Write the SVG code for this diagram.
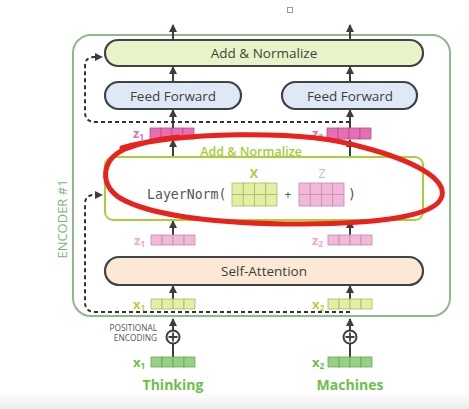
<svg xmlns="http://www.w3.org/2000/svg" width="469" height="409" viewBox="0 0 469 409">
<defs>
<marker id="ah" markerUnits="userSpaceOnUse" markerWidth="8" markerHeight="8" refX="7" refY="4" orient="auto">
<path d="M0,0 L8,4 L0,8 z" fill="#3d3d3d"/>
</marker>
<linearGradient id="shade" x1="0" y1="0" x2="0" y2="1">
<stop offset="0" stop-color="#ffffff"/>
<stop offset="1" stop-color="#ececec"/>
</linearGradient>
</defs>
<style>
.t{font-family:"Open Sans","Liberation Sans",sans-serif;fill:#3f3f3f;text-anchor:middle}
.box{stroke:#3f4347;stroke-width:2.2}
.ar{stroke:#3d3d3d;stroke-width:2;fill:none;marker-end:url(#ah)}
.dash{stroke:#333;stroke-width:2;fill:none;stroke-dasharray:4 3}
.zd{fill:#e46fb4;stroke:#b8508e;stroke-width:0.8}
.zl{fill:#f2b8d9;stroke:#c98bb0;stroke-width:0.8}
.xl{fill:#e3f0a3;stroke:#a8b86c;stroke-width:0.8}
.xd{fill:#98d184;stroke:#6aa65c;stroke-width:0.8}
.lab{font-family:"Open Sans","Liberation Sans",sans-serif;font-weight:bold;font-size:13px}
</style>
<rect width="469" height="409" fill="#ffffff"/>
<rect x="0" y="392" width="469" height="17" fill="url(#shade)"/>
<rect x="287.5" y="7.5" width="5" height="5" fill="none" stroke="#9a9a9a" stroke-width="1"/>

<g id="encoder">
<rect x="73" y="35" width="377" height="281" rx="18" fill="none" stroke="#8db98d" stroke-width="2"/>
<text transform="translate(67,219) rotate(-90)" font-family="'Open Sans','Liberation Sans',sans-serif" font-size="13" fill="#7fb27f" text-anchor="middle">ENCODER #1</text>
</g>

<g id="connectors">
<line class="ar" x1="173" y1="40" x2="173" y2="25"/>
<line class="ar" x1="350" y1="40" x2="350" y2="25"/>
<line class="ar" x1="173" y1="82" x2="173" y2="67"/>
<line class="ar" x1="350" y1="82" x2="350" y2="67"/>
<line class="ar" x1="173" y1="128" x2="173" y2="110"/>
<line class="ar" x1="350" y1="128" x2="350" y2="110"/>
<line class="ar" x1="173" y1="157" x2="173" y2="140"/>
<line class="ar" x1="350" y1="157" x2="350" y2="140"/>
<line class="ar" x1="173" y1="235" x2="173" y2="221"/>
<line class="ar" x1="350" y1="235" x2="350" y2="221"/>
<line class="ar" x1="173" y1="299" x2="173" y2="286"/>
<line class="ar" x1="350" y1="299" x2="350" y2="286"/>
<line class="ar" x1="173" y1="331" x2="173" y2="319"/>
<line class="ar" x1="350" y1="331" x2="350" y2="319"/>
<line x1="173" y1="343" x2="173" y2="357" stroke="#3d3d3d" stroke-width="2"/>
<line x1="350" y1="343" x2="350" y2="357" stroke="#3d3d3d" stroke-width="2"/>
<path class="dash" d="M350,122 L95,122 Q85,122 85,112 L85,66 Q85,57 94,57 L100,57"/>
<path d="M95,53 L103,57 L95,61 z" fill="#3d3d3d"/>
<path class="dash" d="M350,312 L95,312 Q85,312 85,302 L85,204 Q85,195 94,195 L100,195"/>
<path d="M95,191 L103,195 L95,199 z" fill="#3d3d3d"/>
</g>

<g id="add-normalize-top">
<rect class="box" x="105" y="40" width="318" height="26" rx="13" fill="#e8f4c8"/>
<text class="t" x="264" y="58" font-size="13.5">Add &amp; Normalize</text>
</g>

<g id="feed-forward-1">
<rect class="box" x="105" y="82" width="136" height="27" rx="13.5" fill="#dfe9f6"/>
<text class="t" x="173" y="100.5" font-size="13.5">Feed Forward</text>
</g>
<g id="feed-forward-2">
<rect class="box" x="282" y="82" width="135" height="27" rx="13.5" fill="#dfe9f6"/>
<text class="t" x="350" y="100.5" font-size="13.5">Feed Forward</text>
</g>

<g id="z1-out">
<text class="lab" x="133" y="138" fill="#e46fb4">z<tspan font-size="8.5" dy="2">1</tspan></text>
<rect class="zd" x="150" y="128" width="11" height="11"/><rect class="zd" x="161" y="128" width="11" height="11"/><rect class="zd" x="172" y="128" width="11" height="11"/><rect class="zd" x="183" y="128" width="11" height="11"/>
</g>
<g id="z2-out">
<text class="lab" x="312" y="138" fill="#e46fb4">z<tspan font-size="8.5" dy="2">2</tspan></text>
<rect class="zd" x="327" y="128" width="11" height="11"/><rect class="zd" x="338" y="128" width="11" height="11"/><rect class="zd" x="349" y="128" width="11" height="11"/><rect class="zd" x="360" y="128" width="11" height="11"/>
</g>

<g id="layernorm">
<text x="251" y="156" font-family="'Open Sans','Liberation Sans',sans-serif" font-size="12.5" font-weight="600" fill="#a6cc3e" text-anchor="middle">Add &amp; Normalize</text>
<rect x="105" y="157" width="318" height="63" rx="8" fill="#ffffff" stroke="#a6cf38" stroke-width="2"/>
<text x="147" y="199" font-family="'DejaVu Sans Mono','Liberation Mono',monospace" font-size="13.2" fill="#555">LayerNorm(</text>
<text x="254" y="178" font-family="'Open Sans','Liberation Sans',sans-serif" font-size="12.5" font-weight="bold" fill="#b3c83a" text-anchor="middle">X</text>
<text x="322" y="178" font-family="'Open Sans','Liberation Sans',sans-serif" font-size="12.5" fill="#eea8cc" text-anchor="middle">Z</text>
<g class="xl">
<rect x="232" y="183" width="11.25" height="11.5"/><rect x="243.25" y="183" width="11.25" height="11.5"/><rect x="254.5" y="183" width="11.25" height="11.5"/><rect x="265.75" y="183" width="11.25" height="11.5"/>
<rect x="232" y="194.5" width="11.25" height="11.5"/><rect x="243.25" y="194.5" width="11.25" height="11.5"/><rect x="254.5" y="194.5" width="11.25" height="11.5"/><rect x="265.75" y="194.5" width="11.25" height="11.5"/>
</g>
<text x="288" y="199" font-family="'Open Sans','Liberation Sans',sans-serif" font-size="12" fill="#555" text-anchor="middle">+</text>
<g class="zl">
<rect x="299" y="183" width="11.25" height="11.5"/><rect x="310.25" y="183" width="11.25" height="11.5"/><rect x="321.5" y="183" width="11.25" height="11.5"/><rect x="332.75" y="183" width="11.25" height="11.5"/>
<rect x="299" y="194.5" width="11.25" height="11.5"/><rect x="310.25" y="194.5" width="11.25" height="11.5"/><rect x="321.5" y="194.5" width="11.25" height="11.5"/><rect x="332.75" y="194.5" width="11.25" height="11.5"/>
</g>
<text x="348" y="199" font-family="'DejaVu Sans Mono','Liberation Mono',monospace" font-size="13.2" fill="#555">)</text>
</g>

<g id="z1-in">
<text class="lab" x="134" y="245" fill="#f0a8cf">z<tspan font-size="8.5" dy="2">1</tspan></text>
<rect class="zl" x="151" y="235" width="11" height="10"/><rect class="zl" x="162" y="235" width="11" height="10"/><rect class="zl" x="173" y="235" width="11" height="10"/><rect class="zl" x="184" y="235" width="11" height="10"/>
</g>
<g id="z2-in">
<text class="lab" x="312" y="245" fill="#f0a8cf">z<tspan font-size="8.5" dy="2">2</tspan></text>
<rect class="zl" x="328" y="235" width="11" height="10"/><rect class="zl" x="339" y="235" width="11" height="10"/><rect class="zl" x="350" y="235" width="11" height="10"/><rect class="zl" x="361" y="235" width="11" height="10"/>
</g>

<g id="self-attention">
<rect class="box" x="105" y="257" width="318" height="28" rx="14" fill="#fbe8d5"/>
<text class="t" x="264" y="276" font-size="13.5">Self-Attention</text>
</g>

<g id="x1-enc">
<text class="lab" x="133" y="309" fill="#c2cc3a">x<tspan font-size="8.5" dy="2">1</tspan></text>
<rect class="xl" x="151" y="299" width="11" height="10"/><rect class="xl" x="162" y="299" width="11" height="10"/><rect class="xl" x="173" y="299" width="11" height="10"/><rect class="xl" x="184" y="299" width="11" height="10"/>
</g>
<g id="x2-enc">
<text class="lab" x="312" y="309" fill="#c2cc3a">x<tspan font-size="8.5" dy="2">2</tspan></text>
<rect class="xl" x="328" y="299" width="11" height="10"/><rect class="xl" x="339" y="299" width="11" height="10"/><rect class="xl" x="350" y="299" width="11" height="10"/><rect class="xl" x="361" y="299" width="11" height="10"/>
</g>

<g id="positional-encoding">
<text x="157" y="331" font-family="'Open Sans','Liberation Sans',sans-serif" font-size="8.3" fill="#555" text-anchor="end">POSITIONAL</text>
<text x="157" y="341" font-family="'Open Sans','Liberation Sans',sans-serif" font-size="8.3" fill="#555" text-anchor="end">ENCODING</text>
<circle cx="173" cy="337" r="6.5" fill="#fff" stroke="#3d3d3d" stroke-width="2"/>
<path d="M168.5,337 H177.5 M173,332.5 V341.5" stroke="#3d3d3d" stroke-width="1.8"/>
<circle cx="350" cy="337" r="6.5" fill="#fff" stroke="#3d3d3d" stroke-width="2"/>
<path d="M345.5,337 H354.5 M350,332.5 V341.5" stroke="#3d3d3d" stroke-width="1.8"/>
</g>

<g id="x1-input">
<text class="lab" x="133" y="367" fill="#6cbf4a">x<tspan font-size="8.5" dy="2">1</tspan></text>
<rect class="xd" x="151" y="357" width="11" height="10"/><rect class="xd" x="162" y="357" width="11" height="10"/><rect class="xd" x="173" y="357" width="11" height="10"/><rect class="xd" x="184" y="357" width="11" height="10"/>
<text x="173" y="390" font-family="'Open Sans','Liberation Sans',sans-serif" font-size="14" font-weight="bold" fill="#6cbf4a" text-anchor="middle">Thinking</text>
</g>
<g id="x2-input">
<text class="lab" x="312" y="367" fill="#6cbf4a">x<tspan font-size="8.5" dy="2">2</tspan></text>
<rect class="xd" x="328" y="357" width="11" height="10"/><rect class="xd" x="339" y="357" width="11" height="10"/><rect class="xd" x="350" y="357" width="11" height="10"/><rect class="xd" x="361" y="357" width="11" height="10"/>
<text x="350" y="390" font-family="'Open Sans','Liberation Sans',sans-serif" font-size="14" font-weight="bold" fill="#6cbf4a" text-anchor="middle">Machines</text>
</g>

<g id="red-ellipse">
<path d="M122,148 C170,133 300,128 362,147 C412,160 446,178 442,196 C437,216 380,224 300,224 C220,224 150,216 120,198 C100,186 100,160 125,149 C142,142 160,139 178,137" fill="none" stroke="#e8221c" stroke-width="5" stroke-linecap="round" stroke-linejoin="round"/>
</g>
</svg>
